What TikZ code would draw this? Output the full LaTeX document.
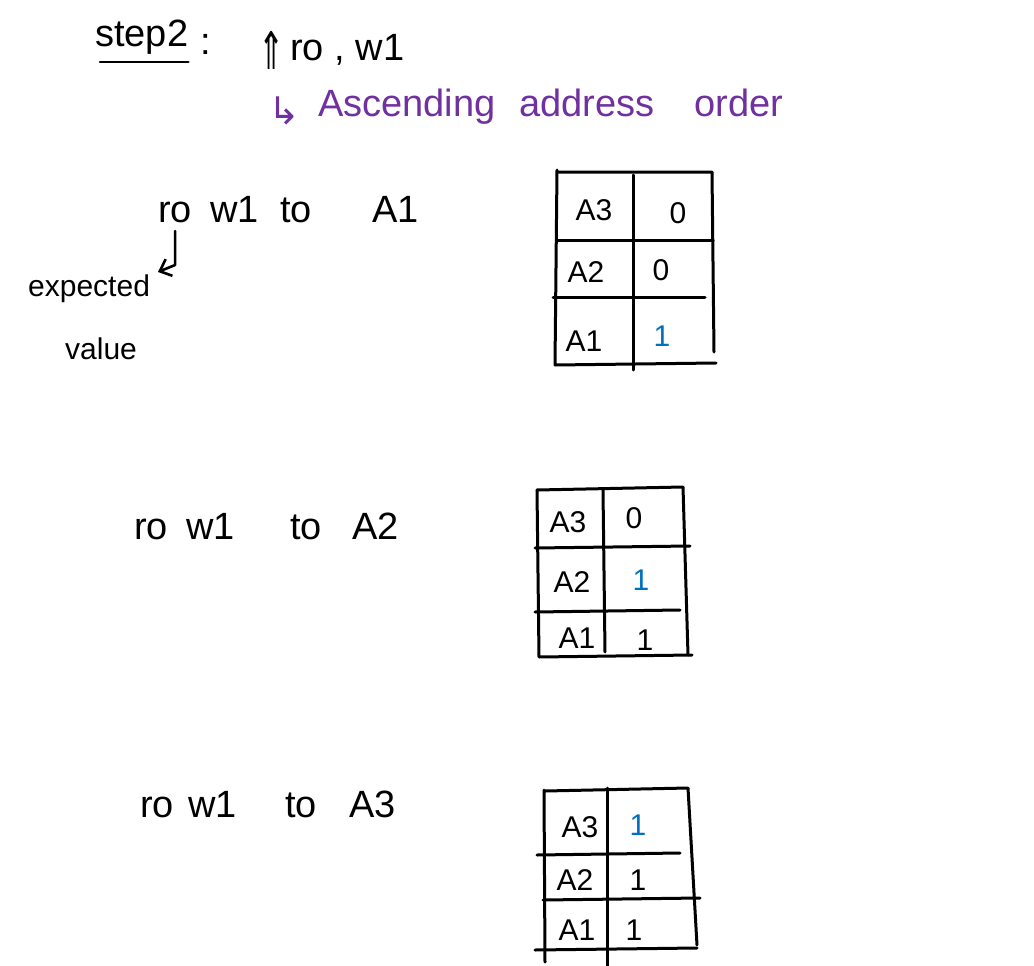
\documentclass[tikz,border=0pt]{standalone}
\usepackage{fontspec}
\usepackage{graphicx}
\setmainfont{Liberation Sans}
\newfontfamily\symfont{DejaVu Sans}
\usetikzlibrary{arrows.meta}
\definecolor{hpurple}{RGB}{112,48,160}
\definecolor{hblue}{RGB}{0,112,192}
\tikzset{
  txt/.style={inner sep=0pt, anchor=south west, font=\fontsize{38}{40}\selectfont},
  hdr/.style={inner sep=0pt, anchor=south west, font=\fontsize{38}{40}\selectfont},
  cell/.style={inner sep=0pt, font=\fontsize{30}{32}\selectfont},
  bluecell/.style={cell, text=hblue},
  grid/.style={line width=3pt, line cap=round, line join=round},
  pen/.style={line width=2.6pt, line cap=round, line join=round},
  purp/.style={inner sep=0pt, anchor=south west, text=hpurple, font=\fontsize{38}{40}\selectfont},
  small/.style={inner sep=0pt, anchor=south west, font=\fontsize{30}{32}\selectfont},
}
\begin{document}
\begin{tikzpicture}[x=1pt,y=-1pt]
\useasboundingbox (0,0) rectangle (1034,966);
% header
\node[hdr] (step) at (95,55) {step2};
\draw[pen] (100,62) -- (step.south east |- 0,62);
\node[hdr] (colon) at (200,55) {:};
\node[inner sep=0pt, anchor=south west, font=\symfont\fontsize{52}{52}\selectfont] (up) at (258,70) {\scalebox{0.6}[1]{⇑}};
\node[hdr] (rowone) at (290,66) {ro , w1};
\node[inner sep=0pt, anchor=south west, text=hpurple, font=\symfont\fontsize{38}{40}\selectfont] (hook) at (268,125) {↳};
\node[purp] (asc) at (318,125) {Ascending\hspace{24pt}address\hspace{40pt}order};

% row 1
\node[txt] (r1ro) at (158,223) {ro};
\node[txt] (r1w) at (210,223) {w1};
\node[txt] (r1to) at (280,223) {to};
\node[txt] (r1a) at (372,223) {A1};
\node[small] (exp) at (28,303) {expected};
\node[small] (val) at (65,360) {value};
\coordinate (expArr) at (158,272);
\draw[pen,-{Straight Barb[length=10pt,width=18pt]}] ([yshift=-8pt]r1ro.south) -- ++(0,34) -- (expArr);

% table 1
\draw[grid] (557,172) -- (712,172) -- (714,352);
\draw[grid] (557,170) -- (555,365) -- (716,363);
\draw[grid] (633,175) -- (633,370);
\draw[grid] (557,240) -- (713,240);
\draw[grid] (553,297) -- (705,297);
\node[cell] (t1a3) at (594,210) {A3};
\node[cell] (t1v3) at (678,213) {0};
\node[cell] (t1a2) at (586,272) {A2};
\node[cell] (t1v2) at (661,270) {0};
\node[cell] (t1a1) at (584,341) {A1};
\node[bluecell] (t1v1) at (662,336) {1};

% row 2
\node[txt] (r2ro) at (134,540) {ro};
\node[txt] (r2w) at (186,540) {w1};
\node[txt] (r2to) at (290,540) {to};
\node[txt] (r2a) at (352,540) {A2};

% table 2
\draw[grid] (537,490) -- (683,487) -- (688,655);
\draw[grid] (537,490) -- (539,657) -- (692,655);
\draw[grid] (603,490) -- (605,652);
\draw[grid] (535,548) -- (690,546);
\draw[grid] (535,612) -- (680,610);
\node[cell] (t2a3) at (568,522) {A3};
\node[cell] (t2v3) at (634,518) {0};
\node[cell] (t2a2) at (572,582) {A2};
\node[bluecell] (t2v2) at (641,580) {1};
\node[cell] (t2a1) at (577,638) {A1};
\node[cell] (t2v1) at (645,640) {1};

% row 3
\node[txt] (r3ro) at (140,818) {ro};
\node[txt] (r3w) at (188,818) {w1};
\node[txt] (r3to) at (285,818) {to};
\node[txt] (r3a) at (349,818) {A3};

% table 3
\draw[grid] (545,791) -- (688,788) -- (697,945);
\draw[grid] (544,790) -- (545,962);
\draw[grid] (607,788) -- (607,966);
\draw[grid] (537,855) -- (680,853);
\draw[grid] (543,900) -- (700,898);
\draw[grid] (535,950) -- (697,948);
\node[cell] (t3a3) at (580,827) {A3};
\node[bluecell] (t3v3) at (638,825) {1};
\node[cell] (t3a2) at (575,880) {A2};
\node[cell] (t3v2) at (638,880) {1};
\node[cell] (t3a1) at (577,930) {A1};
\node[cell] (t3v1) at (634,930) {1};
\end{tikzpicture}
\end{document}
